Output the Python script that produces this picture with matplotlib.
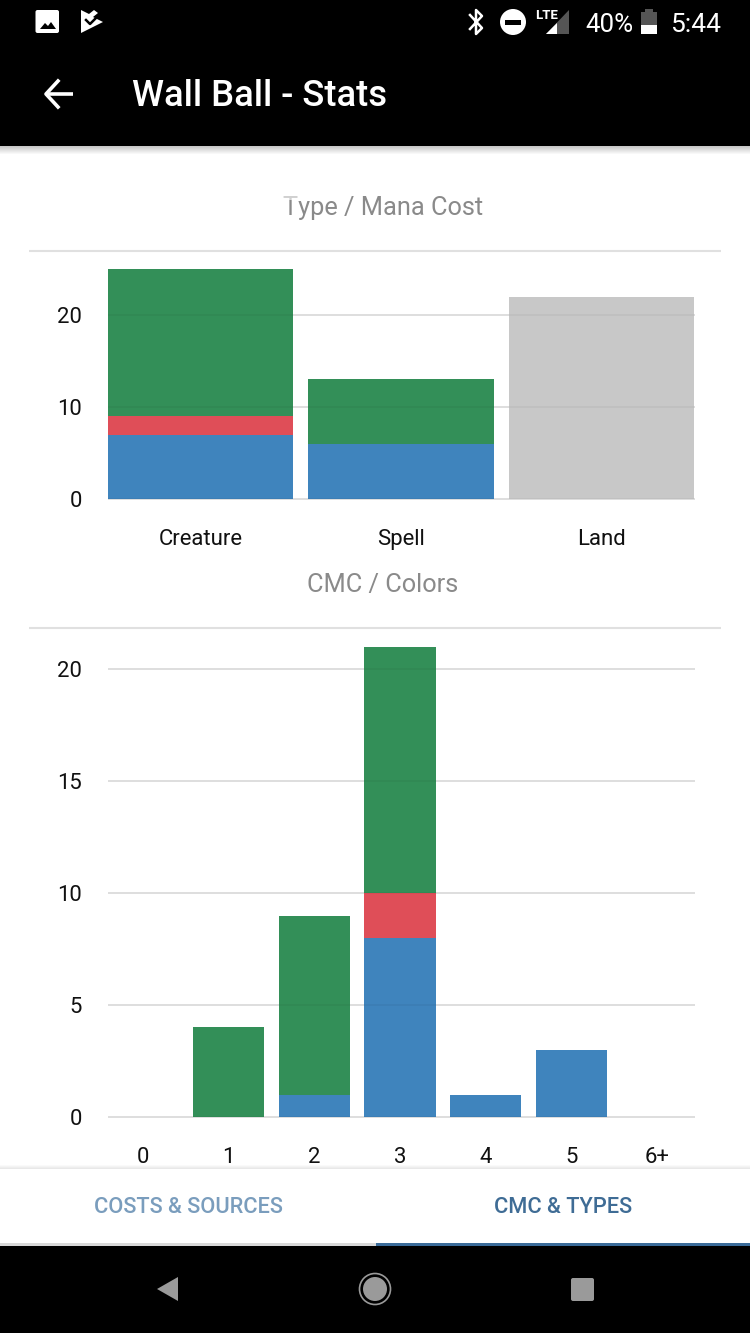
import matplotlib
matplotlib.use("Agg")
import matplotlib.pyplot as plt
from matplotlib.patches import Rectangle, Polygon, Circle, FancyBboxPatch
import numpy as np

plt.rcParams['font.family'] = ['Roboto', 'DejaVu Sans']

# ---- data ----
type_categories = ["Creature", "Spell", "Land"]
type_blue = [7, 6, 0]
type_red = [2, 0, 0]
type_green = [16, 7, 0]
type_gray = [0, 0, 22]

cmc_categories = ["0", "1", "2", "3", "4", "5", "6+"]
cmc_blue = [0, 0, 1, 8, 1, 3, 0]
cmc_red = [0, 0, 0, 2, 0, 0, 0]
cmc_green = [0, 4, 8, 11, 0, 0, 0]

type_ticks = [0, 10, 20]
cmc_ticks = [0, 5, 10, 15, 20]

BLUE, RED, GREEN, GRAY = "#3f84bd", "#df4e58", "#338f58", "#c8c8c8"
W, H = 750, 1333

fig = plt.figure(figsize=(7.5, 13.33), dpi=100, facecolor="white")


def axes_px(left, right, top, bottom, z=1):
    return fig.add_axes([left / W, 1 - bottom / H, (right - left) / W, (bottom - top) / H], zorder=z)


def stacked(ax, cats, series, width, ticks, ymax, xlim):
    x = np.arange(len(cats))
    bottom = np.zeros(len(cats))
    for vals, col in series:
        v = np.array(vals, dtype=float)
        ax.bar(x, v, width=width, bottom=bottom, color=col, linewidth=0, zorder=2)
        bottom += v
    ax.set_xlim(*xlim)
    ax.set_ylim(0, ymax)
    ax.set_xticks(x, cats)
    ax.set_yticks(ticks)
    ax.patch.set_alpha(0)
    for s in ax.spines.values():
        s.set_visible(False)
    ax.set_axisbelow(True)
    ax.grid(axis="y", color="#e6e6e6", linewidth=1.3)
    ax.hlines(ticks, xlim[0], xlim[1], colors="black", alpha=0.045, linewidth=1.3, zorder=3, clip_on=False)
    ax.tick_params(axis="both", length=0, labelsize=15.9, labelcolor="#111111")
    ax.tick_params(axis="x", pad=21.7)
    ax.tick_params(axis="y", pad=18.5)
    for g in ax.get_ygridlines():
        g.set_clip_on(False)
        g.set_solid_capstyle("butt")


ax1 = axes_px(107.5, 694.5, 269, 499)
stacked(ax1, type_categories,
        [(type_blue, BLUE), (type_red, RED), (type_green, GREEN), (type_gray, GRAY)],
        0.925, type_ticks, 25, (-0.464, 2.464))

ax2 = axes_px(107.5, 694.5, 647, 1117)
stacked(ax2, cmc_categories,
        [(cmc_blue, BLUE), (cmc_red, RED), (cmc_green, GREEN)],
        0.83, cmc_ticks, 21, (-0.414, 6.437))

# ---- app chrome, in pixel coordinates ----
ui = fig.add_axes([0, 0, 1, 1], zorder=5)
ui.set_xlim(0, W)
ui.set_ylim(H, 0)
ui.axis("off")
ui.patch.set_alpha(0)


def rect(x0, y0, x1, y1, c, z=2, **k):
    ui.add_patch(Rectangle((x0, y0), x1 - x0, y1 - y0, facecolor=c, edgecolor="none", zorder=z, **k))


def rrect(x0, y0, x1, y1, c, r=2, z=4):
    ui.add_patch(FancyBboxPatch((x0 + r, y0 + r), x1 - x0 - 2 * r, y1 - y0 - 2 * r,
                                boxstyle=f"round,pad={r},rounding_size={r}",
                                facecolor=c, edgecolor="none", zorder=z))


def poly(pts, c, z=4):
    ui.add_patch(Polygon(pts, closed=True, facecolor=c, edgecolor="none", zorder=z))


# section titles and rules
ui.text(383.5, 208, "Type / Mana Cost", ha="center", va="center", fontsize=18.3, color="#8a8a8a", zorder=2)
rect(282, 194, 298, 199.5, "white", z=3, alpha=0.6)
ui.plot([29, 721], [250.5, 250.5], color="#e0e0e0", lw=1.5, zorder=2, solid_capstyle="butt")
ui.text(383, 585, "CMC / Colors", ha="center", va="center", fontsize=18.3, color="#8a8a8a", zorder=2)
ui.plot([29, 721], [628, 628], color="#e0e0e0", lw=1.5, zorder=2, solid_capstyle="butt")

# header
rect(0, 0, W, 146, "black")
for i, a in enumerate(np.linspace(0.22, 0.0, 9)):
    rect(0, 146 + i, W, 147 + i, "black", alpha=float(a))
ui.text(132, 96, "Wall Ball - Stats", ha="left", va="center", fontsize=26.2, color="white", fontweight="medium", zorder=4)
ui.plot([73, 46], [94, 94], color="white", lw=2.6, zorder=4, solid_capstyle="butt")
ui.plot([58, 46, 58], [81, 94, 107], color="white", lw=2.6, zorder=4)

# status bar
rrect(35.5, 10, 59, 33, "white", r=2)
poly([(40, 29), (45, 23), (48, 26), (51, 22), (56, 29)], "black", z=5)
poly([(81, 10), (89, 14), (94, 10), (98, 13), (93, 17), (103, 22), (81, 33)], "white")
ui.plot([86, 90, 97], [20, 24, 17], color="black", lw=1.8, zorder=5)
ui.plot([470, 482, 476, 476, 482, 470], [15, 28, 34, 10, 16, 29], color="white", lw=1.8, zorder=4)
ui.add_patch(Circle((513, 22), 13, facecolor="white", edgecolor="none", zorder=4))
rect(505, 19.5, 521, 24.5, "black", z=5)
ui.text(546.5, 15.5, "LTE", ha="center", va="center", fontsize=9.5, color="white", fontweight="bold", zorder=4)
poly([(569, 10), (569, 34), (546, 34)], "#555555")
poly([(557, 23), (557, 34), (546, 34)], "white", z=5)
ui.text(585, 25, "40%", ha="left", va="center", fontsize=18.6, color="white", zorder=4)
rect(641, 12, 657, 34, "#555555")
rect(645, 9, 653, 12, "#555555")
rect(641, 25, 657, 34, "white", z=5)
ui.text(721, 25, "5:44", ha="right", va="center", fontsize=19, color="white", zorder=4)

# bottom tab bar
for i, a in enumerate(np.linspace(0.02, 0.09, 4)):
    rect(0, 1165 + i, W, 1166 + i, "black", alpha=float(a), z=3)
rect(0, 1169, W, 1245, "white", z=3)
ui.text(188, 1207.5, "COSTS & SOURCES", ha="center", va="center", fontsize=15.7, color="#7a9dbd", fontweight="medium", zorder=4)
ui.text(563.5, 1207.5, "CMC & TYPES", ha="center", va="center", fontsize=15.7, color="#3f6c95", fontweight="medium", zorder=4)
rect(0, 1243, 376, 1246, "#d8d8d8", z=4)
rect(376, 1243, W, 1246, "#3a6b99", z=4)

# nav bar
rect(0, 1246, W, H, "black", z=3)
poly([(178, 1277), (178, 1301), (157, 1289)], "#9a9a9a")
ui.add_patch(Circle((375, 1289), 15.5, facecolor="none", edgecolor="#9a9a9a", lw=1.2, zorder=4))
ui.add_patch(Circle((375, 1289), 12, facecolor="#9a9a9a", edgecolor="none", zorder=4))
rrect(571, 1278, 594, 1301, "#9a9a9a", r=2)

fig.savefig("out.png", dpi=100)
